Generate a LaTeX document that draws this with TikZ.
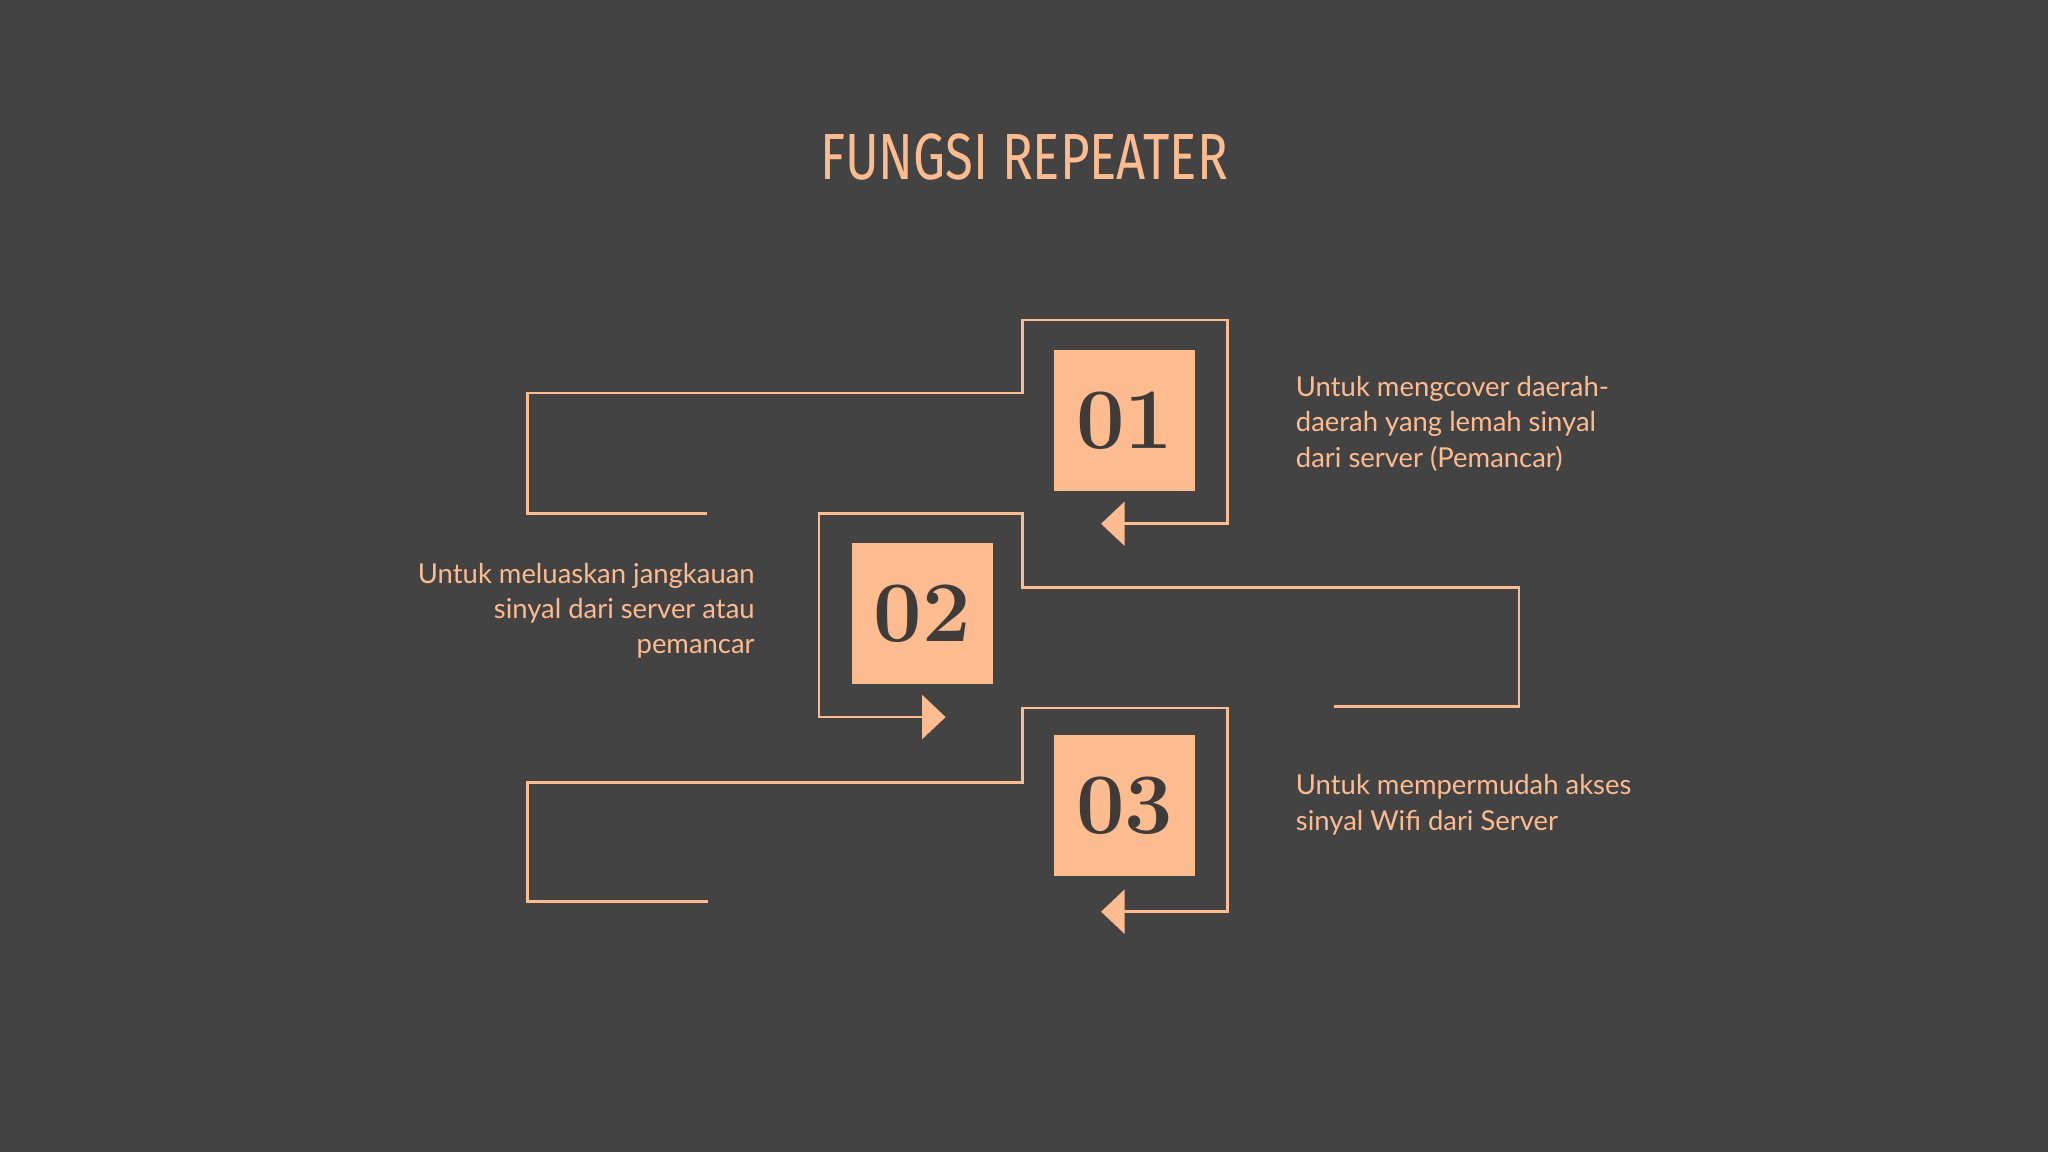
\documentclass[tikz,border=0pt]{standalone}
\usepackage{fontspec}
\setmainfont{Lato}
\newfontfamily\titlefont[FakeStretch=0.78]{Fira Sans}
\definecolor{bg}{HTML}{444343}
\definecolor{peach}{HTML}{FDBB90}
\definecolor{numc}{HTML}{3E3B39}
\tikzset{
 box/.style={fill=peach,minimum width=108pt,minimum height=108pt,inner sep=0,
   font=\fontsize{66}{66}\selectfont\rmfamily\bfseries,text=numc},
 wire/.style={draw=peach,line width=2pt},
 tip/.style={fill=peach},
 desc/.style={text=peach,font=\fontsize{21}{27}\selectfont,inner sep=0},
}
\begin{document}
\begin{tikzpicture}[x=1pt,y=-1pt]
\fill[bg] (0,0) rectangle (1568,882);
\useasboundingbox (0,0) rectangle (1568,882);
\node[text=peach,font=\titlefont\fontsize{50}{50}\selectfont] (title) at (784,120) {FUNGSI REPEATER};
\node[box] (b1) at (861,322) {\fontspec{Latin Modern Roman}01};
\node[box] (b2) at (706,470) {\fontspec{Latin Modern Roman}02};
\node[box] (b3) at (861,617) {\fontspec{Latin Modern Roman}03};
% path 1
\coordinate (s1) at (541,393);
\coordinate (e1) at (860,401);
\draw[wire] (s1) -- (404,393) -- (404,301) -- (783,301) -- (783,245) -- (940,245) -- (940,401) -- (e1);
\fill[tip] (843,401) -- (861,384) -- (861,418) -- cycle;
% path 2
\coordinate (s2) at (1021,541);
\coordinate (e2) at (707,549);
\draw[wire] (s2) -- (1163,541) -- (1163,450) -- (783,450) -- (783,393) -- (627,393) -- (627,549) -- (e2);
\fill[tip] (724,549) -- (706,532) -- (706,566) -- cycle;
% path 3
\coordinate (s3) at (542,690);
\coordinate (e3) at (860,698);
\draw[wire] (s3) -- (404,690) -- (404,599) -- (783,599) -- (783,542) -- (940,542) -- (940,698) -- (e3);
\fill[tip] (843,698) -- (861,681) -- (861,715) -- cycle;
% texts
\node[desc,anchor=north west,align=left] (t1) at (992,288) {Untuk mengcover daerah-\\daerah yang lemah sinyal\\dari server (Pemancar)};
\node[desc,anchor=north east,align=right] (t2) at (578,431) {Untuk meluaskan jangkauan\\sinyal dari server atau\\pemancar};
\node[desc,anchor=north west,align=left] (t3) at (992,593) {Untuk mempermudah akses\\sinyal Wifi dari Server};
\end{tikzpicture}
\end{document}
